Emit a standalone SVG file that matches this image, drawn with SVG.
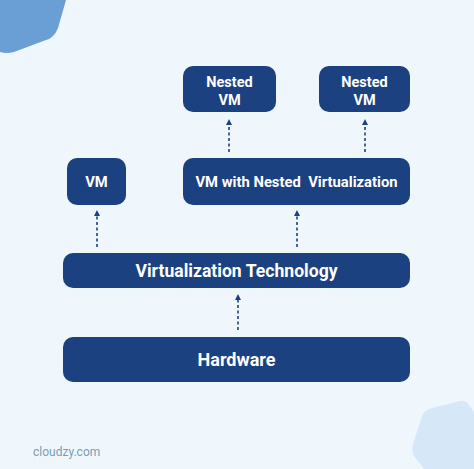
<svg xmlns="http://www.w3.org/2000/svg" width="474" height="469" viewBox="0 0 474 469">
<defs>
<style>
.box{fill:#1c4180;}
.t{fill:#ffffff;font-family:Roboto,"Liberation Sans",sans-serif;font-weight:bold;text-anchor:middle;}
.c{stroke:#1c4180;stroke-width:1.6;stroke-dasharray:3,2.5;fill:none;}
</style>
<marker id="ah" markerWidth="6" markerHeight="6" refX="3" refY="3" orient="auto" markerUnits="userSpaceOnUse">
<path d="M0,0 L6,3 L0,6 z" fill="#1c4180"/>
</marker>
</defs>
<rect width="474" height="469" fill="#eff7fd"/>
<path d="M0,0 L66,0 L58,28 Q54,38 46,40 L14,52 Q6,54 0,52 Z" fill="#6a9fd6"/>
<path d="M422,416 Q424,410 432,408 L460,401 Q466,400 469,405 L474,412 L474,469 L424,469 L414,456 Q411,450 413,444 Z" fill="#d6e8f8"/>
<g id="connectors">
<line class="c" x1="229" y1="152" x2="229" y2="122" marker-end="url(#ah)"/>
<line class="c" x1="365" y1="152" x2="365" y2="122" marker-end="url(#ah)"/>
<line class="c" x1="97" y1="247" x2="97" y2="213" marker-end="url(#ah)"/>
<line class="c" x1="297" y1="247" x2="297" y2="213" marker-end="url(#ah)"/>
<line class="c" x1="238" y1="330" x2="238" y2="297" marker-end="url(#ah)"/>
</g>
<g id="nested1"><rect class="box" x="183" y="66" width="93" height="46" rx="10"/><text class="t" x="229.5" y="87" font-size="14.5">Nested</text><text class="t" x="229.5" y="105" font-size="14.5">VM</text></g>
<g id="nested2"><rect class="box" x="319" y="66" width="91" height="46" rx="10"/><text class="t" x="364.5" y="87" font-size="14.5">Nested</text><text class="t" x="364.5" y="105" font-size="14.5">VM</text></g>
<g id="vm"><rect class="box" x="67" y="158" width="59" height="47" rx="10"/><text class="t" x="96.5" y="187" font-size="14.8">VM</text></g>
<g id="vmnested"><rect class="box" x="183" y="158" width="227" height="47" rx="10"/><text class="t" x="296.5" y="187" font-size="14.8" xml:space="preserve">VM with Nested  Virtualization</text></g>
<g id="virt"><rect class="box" x="63" y="253" width="347" height="35" rx="10"/><text class="t" x="236.5" y="277" font-size="17.6">Virtualization Technology</text></g>
<g id="hw"><rect class="box" x="63" y="337" width="347" height="45" rx="10"/><text class="t" x="236.5" y="366" font-size="18">Hardware</text></g>
<text x="33" y="456" font-family="Roboto,'Liberation Sans',sans-serif" font-size="12" fill="#7d9bb5">cloudzy.com</text>
</svg>
